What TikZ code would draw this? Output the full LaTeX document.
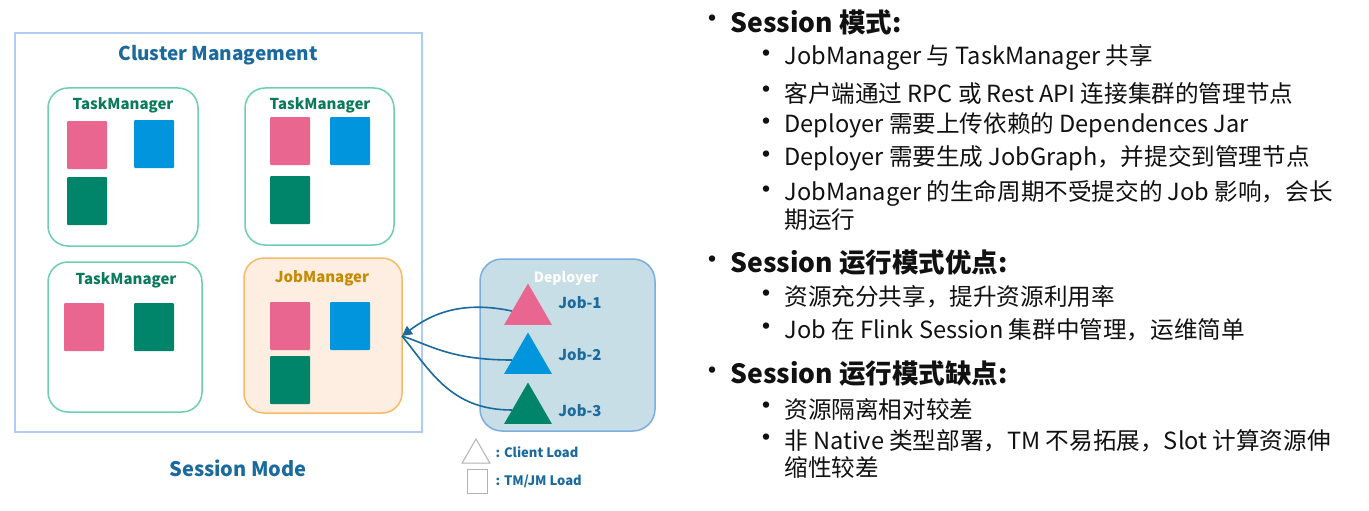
\documentclass[tikz,border=0pt]{standalone}
\usepackage{fontspec}
\setmainfont{Noto Sans CJK SC}
\setsansfont{Noto Sans CJK SC}
\usetikzlibrary{arrows.meta,shapes.geometric}
\definecolor{tmline}{HTML}{6CCFB0}
\definecolor{tmtext}{HTML}{0B7A5C}
\definecolor{cpink}{HTML}{E8668F}
\definecolor{cblue}{HTML}{0095DD}
\definecolor{cgreen}{HTML}{00856A}
\definecolor{jmfill}{HTML}{FDEEE1}
\definecolor{jmline}{HTML}{F6BB66}
\definecolor{jmtext}{HTML}{C48A00}
\definecolor{clline}{HTML}{AFCDF2}
\definecolor{cltext}{HTML}{1A6A9E}
\definecolor{depfill}{HTML}{C7DEE6}
\definecolor{depline}{HTML}{7BAEE0}
\definecolor{arr}{HTML}{1A6A9E}
\definecolor{txt}{HTML}{111111}
\tikzset{
 tm/.style={draw=tmline,line width=1.5pt,rounded corners=20pt},
 tmlabel/.style={text=tmtext,font=\bfseries\fontsize{15}{17}\selectfont},
 sq/.style={minimum width=40pt,minimum height=48pt,inner sep=0,rounded corners=1pt},
 tri/.style={regular polygon,regular polygon sides=3,minimum size=55pt,inner sep=0},
 joblab/.style={text=cltext,font=\bfseries\fontsize{15}{17}\selectfont},
 head/.style={anchor=west,text=txt,font=\bfseries\fontsize{26.5}{28}\selectfont},
 item/.style={anchor=west,text=txt,font=\fontsize{23.6}{26}\selectfont},
 bul/.style={text=txt,font=\fontsize{30}{30}\selectfont},
 link/.style={arr,line width=1.6pt}
}
\begin{document}
\begin{tikzpicture}[x=1pt,y=-1pt]
\useasboundingbox[fill=white] (0,0) rectangle (1369,511);
% cluster
\draw[clline,line width=1.5pt] (15,33) rectangle (422,432);
\node[text=cltext,font=\bfseries\fontsize{19}{22}\selectfont] (cltitle) at (218,55) {Cluster Management};
% TM1
\draw[tm] (48,88) rectangle (198,246);
\node[tmlabel] (tm1) at (123,105) {TaskManager};
\node[sq,fill=cpink] (a1) at (87,145) {};
\node[sq,fill=cblue] (a2) at (154,144) {};
\node[sq,fill=cgreen] (a3) at (87,201) {};
% TM2
\draw[tm] (245,88) rectangle (394,245);
\node[tmlabel] (tm2) at (320,105) {TaskManager};
\node[sq,fill=cpink] (b1) at (290,141) {};
\node[sq,fill=cblue] (b2) at (350,141) {};
\node[sq,fill=cgreen] (b3) at (290,200) {};
% TM3
\draw[tm] (48,262) rectangle (202,412);
\node[tmlabel] (tm3) at (126,280) {TaskManager};
\node[sq,fill=cpink] (c1) at (84,327) {};
\node[sq,fill=cgreen] (c2) at (154,327) {};
% JM
\draw[draw=jmline,fill=jmfill,line width=1.5pt,rounded corners=20pt] (244,258) rectangle (402,413);
\node[text=jmtext,font=\bfseries\fontsize{15}{17}\selectfont] (jm) at (322,278) {JobManager};
\node[sq,fill=cpink] (d1) at (290,326) {};
\node[sq,fill=cblue] (d2) at (350,326) {};
\node[sq,fill=cgreen] (d3) at (290,380) {};
\coordinate (jmin) at (402,336);
% Deployer
\draw[draw=depline,fill=depfill,line width=1.5pt,rounded corners=22pt] (480,259) rectangle (655,431);
\node[text=white,font=\bfseries\fontsize{14}{16}\selectfont] (dep) at (566,278) {Deployer};
\node[tri,fill=cpink] (j1) at (528,311) {};
\node[tri,fill=cblue] (j2) at (528,360) {};
\node[tri,fill=cgreen] (j3) at (528,410) {};
\node[joblab] (l1) at (580,303) {Job-1};
\node[joblab] (l2) at (580,355) {Job-2};
\node[joblab] (l3) at (580,411) {Job-3};
\draw[link,-{Triangle[length=10pt,width=10pt]}] (j1.west) .. controls (460,300) and (430,315) .. (jmin);
\draw[link] (j2.west) .. controls (450,360) and (430,345) .. (jmin);
\draw[link] (j3.west) .. controls (450,410) and (430,370) .. (jmin);
% legend
\node[draw=gray!60,line width=1pt,regular polygon,regular polygon sides=3,minimum size=32pt,inner sep=0] (lt) at (476,455) {};
\node[text=cltext,font=\bfseries\fontsize{13}{15}\selectfont,anchor=west] (ltl) at (492,452) {: Client Load};
\node[draw=gray!60,line width=1pt,minimum width=20pt,minimum height=24pt,inner sep=0] (ls) at (477,481) {};
\node[text=cltext,font=\bfseries\fontsize{13}{15}\selectfont,anchor=west] (lsl) at (492,481) {: TM/JM Load};
\node[text=cltext,font=\bfseries\fontsize{20}{22}\selectfont] (mode) at (238,468) {Session Mode};
% right text
\foreach \y/\t in {22/{Session 模式:},263/{Session 运行模式优点:},374/{Session 运行模式缺点:}}{
 \node[bul] at (712,\y) {•};
 \node[head] at (727,\y) {\t};
}
\foreach \y/\t in {57/{JobManager 与 TaskManager 共享},93/{客户端通过 RPC 或 Rest API 连接集群的管理节点},125/{Deployer 需要上传依赖的 Dependences Jar},158/{Deployer 需要生成 JobGraph，并提交到管理节点},193/{JobManager 的生命周期不受提交的 Job 影响，会长},297/{资源充分共享，提升资源利用率},330/{Job 在 Flink Session 集群中管理，运维简单},409/{资源隔离相对较差},441/{非 Native 类型部署，TM 不易拓展，Slot 计算资源伸}}{
 \node[bul] at (766,\y) {•};
 \node[item] at (781,\y) {\t};
}
\node[item] at (781,220) {期运行};
\node[item] at (781,467) {缩性较差};
\end{tikzpicture}
\end{document}
